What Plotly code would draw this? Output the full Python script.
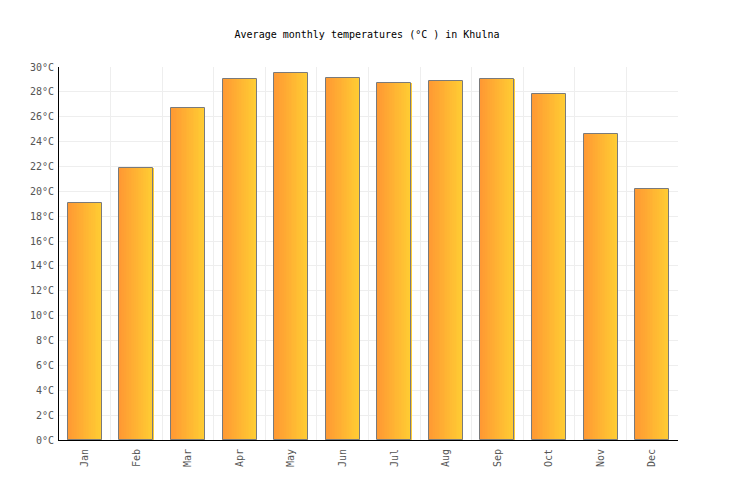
import plotly.graph_objects as go

months = ["Jan", "Feb", "Mar", "Apr", "May", "Jun", "Jul", "Aug", "Sep", "Oct", "Nov", "Dec"]
temps = [19.1, 21.85, 26.7, 29.0, 29.55, 29.15, 28.75, 28.85, 29.05, 27.8, 24.6, 20.2]
y_ticks = list(range(0, 31, 2))
y_labels = [f"{v}°C" for v in y_ticks]

BAR_W = 0.66
N = 20
c0 = (255, 153, 51)
c1 = (255, 204, 51)

fig = go.Figure()
sw = BAR_W / N
for i in range(N):
    t = i / (N - 1)
    col = "rgb({},{},{})".format(*[round(a + (b - a) * t) for a, b in zip(c0, c1)])
    fig.add_trace(go.Bar(
        x=months, y=temps,
        width=sw + 0.004,
        offset=-BAR_W / 2 + i * sw,
        marker=dict(color=col, line=dict(width=0)),
        hoverinfo="skip", showlegend=False,
    ))
fig.add_trace(go.Bar(
    x=months, y=temps, width=BAR_W, offset=-BAR_W / 2,
    marker=dict(color="rgba(0,0,0,0)", line=dict(color="#7a7a7a", width=1)),
    showlegend=False,
))

font = "DejaVu Sans Mono, monospace"
# page body has an 8px margin; compensate so the plot lands where the reference has it
fig.update_layout(
    width=736, height=500,
    barmode="overlay",
    paper_bgcolor="white", plot_bgcolor="white",
    margin=dict(l=51, r=66, t=59, b=68, autoexpand=False),
    title=dict(text="Average monthly temperatures (°C ) in Khulna", x=(367 - 8) / 736, xanchor="center",
               y=1 - 26 / 500, yanchor="middle", font=dict(family=font, size=10, color="#000")),
    font=dict(family=font, size=10, color="#555"),
    bargap=0,
)
fig.update_xaxes(
    type="category", tickson="boundaries", tickangle=-90,
    showgrid=True, gridcolor="#eeeeee", gridwidth=1,
    showline=True, linecolor="#000", linewidth=1,
    ticks="", range=[-0.5, 11.5], ticklabelstandoff=4,
    tickfont=dict(family=font, size=10, color="#555"),
)
fig.update_yaxes(
    range=[0, 30], tickvals=y_ticks, ticktext=y_labels,
    showgrid=True, gridcolor="#eeeeee", gridwidth=1,
    showline=True, linecolor="#000", linewidth=1,
    ticks="", zeroline=False, ticklabelstandoff=2,
    tickfont=dict(family=font, size=10, color="#555"),
)
fig.write_html("out.html")
